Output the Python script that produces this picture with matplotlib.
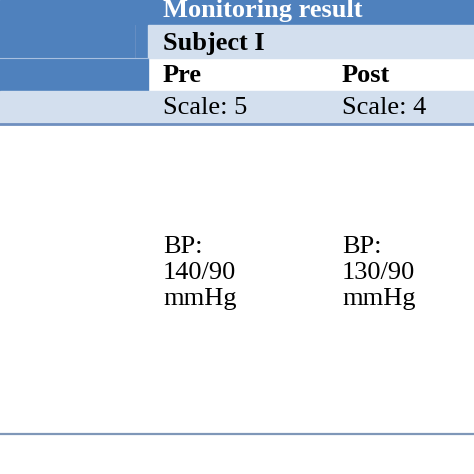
import matplotlib.pyplot as plt
from matplotlib.patches import Rectangle

header = "Monitoring result"
subject = "Subject I"
phases = ["Pre", "Post"]
scales = ["Scale: 5", "Scale: 4"]
bp = ["BP:\n140/90\nmmHg", "BP:\n130/90\nmmHg"]

dark = "#4F81BD"
light = "#D3DFEE"

fig = plt.figure(figsize=(4.74, 4.74), dpi=100)
ax = fig.add_axes([0, 0, 1, 1])
ax.set_xlim(0, 474)
ax.set_ylim(474, 0)
ax.axis("off")

# row backgrounds (pixel space)
ax.add_patch(Rectangle((0, 0), 474, 25, color=dark))
ax.add_patch(Rectangle((0, 25), 148, 66, color=dark))
ax.add_patch(Rectangle((148, 25), 326, 33, color=light))
ax.add_patch(Rectangle((0, 91), 474, 32, color=light))
ax.plot([135, 135], [25, 58], color="#6A90C4", lw=0.6)
ax.plot([0, 148], [58, 58], color="#A9C0E0", lw=0.8)
ax.plot([0, 474], [124, 124], color="#6F8FBF", lw=2)
ax.plot([0, 474], [434, 434], color="#7F97B8", lw=1.6)

font = dict(family="Liberation Serif", fontsize=19)
colx = [163, 342]
ax.text(163, 10, header, color="white", fontweight="bold", va="center", **font)
ax.text(163, 43, subject, fontweight="bold", va="center", **font)
for x, p, s, b in zip(colx, phases, scales, bp):
    ax.text(x, 75, p, fontweight="bold", va="center", **font)
    ax.text(x, 108, s, va="center", **font)
    ax.text(x, 236, b, va="top", linespacing=1.25, **font)

fig.savefig("out.png", dpi=100)
